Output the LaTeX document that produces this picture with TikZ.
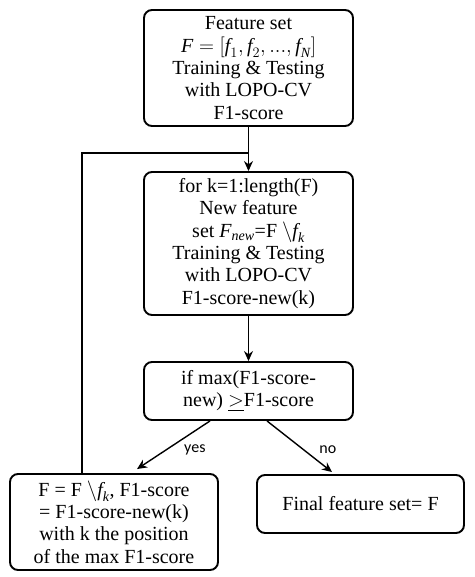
\documentclass[tikz,border=0pt]{standalone}
\usepackage{amsmath}
\usepackage{fontspec}
\setmainfont{Liberation Serif}
\newfontfamily\labfont{Carlito}
\usetikzlibrary{arrows.meta,calc}
\newcommand\iv[1]{\text{\itshape #1}}
\begin{document}
\begin{tikzpicture}[x=1pt,y=-1pt,
  box/.style={draw,line width=1.9pt,rounded corners=8pt,align=center,inner sep=2pt,
    font=\rmfamily\fontsize{20}{22.3}\selectfont},
  conn/.style={line width=1.4pt},
  arr/.style={conn,-{Stealth[length=10pt,width=9pt]}},
  lab/.style={font=\labfont\fontsize{16}{18}\selectfont}]
\useasboundingbox (0,0) rectangle (474,577);
\node[box,minimum width=209pt,minimum height=116pt] (b1) at (248.5,68)
  {Feature set\\ $\iv{F}=[\iv{f}_{1},\iv{f}_{2},...,\iv{f}_{\iv{N}}]$\\ Training \& Testing\\ with LOPO-CV\\ F1-score};
\node[box,minimum width=209pt,minimum height=143pt] (b2) at (248.5,243.5)
  {for k=1:length(F)\\ New feature\\ set $\iv{F}_{\iv{new}}$=F $\backslash \iv{f}_{\iv{k}}$\\ Training \& Testing\\ with LOPO-CV\\ F1-score-new(k)};
\node[box,minimum width=209pt,minimum height=58pt] (b3) at (248.5,391)
  {if max(F1-score-\\ new) $\underline{>}$F1-score};
\node[box,minimum width=208pt,minimum height=96pt] (b4) at (114,522)
  {F = F $\backslash \iv{f}_{\iv{k}}$, F1-score\\ = F1-score-new(k)\\ with k the position\\ of the max F1-score};
\node[box,minimum width=207pt,minimum height=58pt] (b5) at (360.5,504)
  {Final feature set= F};
\coordinate (join) at (248.5,153);
\coordinate (corner) at (82,153);
\draw[arr] (b1.south) -- (b2.north);
\draw[conn] (b4.north -| corner) -- (corner) -- (join);
\draw[arr] (b2.south) -- (b3.north);
\draw[arr] ($(b3.south)+(-38.5,0)$) -- node[lab,pos=0.6,anchor=west,xshift=14pt] {yes} ($(b4.north)+(23,-4)$);
\draw[arr] ($(b3.south)+(18.5,0)$) -- node[lab,pos=0.56,anchor=west,xshift=12pt] {no} ($(b5.north)+(-28.5,-2)$);
\end{tikzpicture}
\end{document}
